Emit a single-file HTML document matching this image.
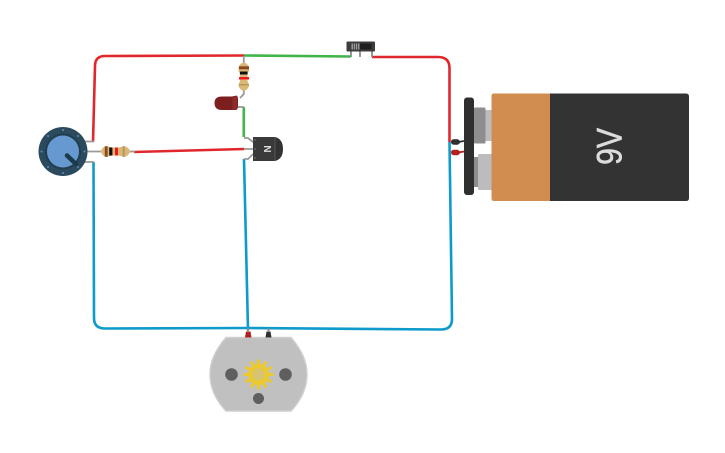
<!DOCTYPE html>
<html><head><meta charset="utf-8"><style>html,body{margin:0;padding:0;background:#fff;width:725px;height:453px;overflow:hidden}svg{display:block}</style></head><body>
<svg width="725" height="453" viewBox="0 0 725 453" xmlns="http://www.w3.org/2000/svg">
<!-- wires -->
<g fill="none" stroke-width="2.600" stroke-linejoin="round">
<path d="M93 142L95 66Q95 56 105 56L244 55.500" stroke="#e0272b"/>
<path d="M244 55.500L351 56.500" stroke="#3fb54a"/>
<path d="M372 57L438 57Q449.500 57 449.500 68L449.500 142" stroke="#e0272b"/>
<path d="M243.800 107L243.800 137" stroke="#3fb54a"/>
<path d="M134 152L244 149" stroke="#e0272b"/>
<path d="M93.500 162L94 318Q94 328.500 105 328.500L248 328L441 329.500Q452 329.500 452 319L449.500 142" stroke="#0e9bcb"/>
<path d="M244 159L248 330" stroke="#0e9bcb"/>
</g>
<!-- leads -->
<g stroke="#9a9a9a" stroke-width="1.800" fill="none">
<path d="M84 141.500H94M84 151.500H102M84 162H94"/>
<path d="M128 151.500H135"/>
<path d="M243.800 56V63M243.800 90L243.800 94L240 98"/>
<path d="M237 107H244"/>
<path d="M244 138H248L253 142M244 149H253M244 159L248 159L253 154"/>
<path d="M351 50V57M360 50V57M372 50V57" stroke="#8a8a8a"/>
</g>
<!-- potentiometer -->
<circle cx="63" cy="151.500" r="24.500" fill="#2b4a5e"/>
<circle cx="63" cy="151.500" r="17" fill="none" stroke="#1b3646" stroke-width="2" stroke-dasharray="1.200 .8"/>
<circle cx="63" cy="151.500" r="16" fill="#6699cf"/>
<g fill="#5b8fb8">
<circle cx="63" cy="130" r="1"/><circle cx="63" cy="173" r="1"/><circle cx="41.500" cy="151.500" r="1"/><circle cx="84.500" cy="151.500" r="1"/><circle cx="78" cy="136" r="1"/><circle cx="48" cy="136" r="1"/><circle cx="48" cy="167" r="1"/><circle cx="78" cy="167" r="1"/>
</g>
<path d="M67 155.500L76 164" stroke="#1d3a4c" stroke-width="4.500" stroke-linecap="round"/>
<!-- resistor 1 -->
<path d="M100.500 151.500Q103 146 107 146Q110 147.500 113 147.500H118Q120 147.500 124 146Q128 146.500 130.500 151.500Q128 156.500 124 157Q120 155.500 118 155.500H113Q110 155.500 107 157Q103 157 100.500 151.500Z" fill="#dcb878"/>
<rect x="104.800" y="146.300" width="2.800" height="10.500" fill="#8a4b1c"/>
<rect x="109.200" y="147.500" width="3.200" height="8" fill="#111"/>
<rect x="115" y="147.500" width="3" height="8" fill="#f01a1a"/>
<rect x="122.700" y="146.300" width="2" height="10.500" fill="#b39a5a"/>
<!-- resistor 2 -->
<path d="M243.800 62Q248.500 64 249 68V71Q247.500 73 247.500 77V81Q249 84 249 86Q247.500 90 243.800 91Q240 90 238.500 86Q238.500 84 240 81V77Q240 73 238.500 71V68Q239 64 243.800 62Z" fill="#dcb878"/>
<rect x="239" y="66.300" width="10" height="3" fill="#8a4b1c"/>
<rect x="240" y="71.500" width="7.500" height="3" fill="#111"/>
<rect x="239" y="77" width="10" height="2.500" fill="#f01a1a"/>
<rect x="239" y="84" width="10" height="1.500" fill="#b39a5a"/>
<!-- LED -->
<path d="M222 96.500H233L236.500 95.500Q238 96 238 100V106Q238 110 235 110H222Q214.500 110 214.500 103Q214.500 96.500 222 96.500Z" fill="#7e1f1f"/>
<rect x="232.500" y="96" width="4.500" height="14" fill="#8d2a2a" rx="1"/>
<!-- transistor -->
<path d="M253 137H275Q283 139 283 149Q283 159 275 161H253Z" fill="#333"/>
<rect x="253" y="137" width="22" height="24" fill="#3a3a3a"/>
<rect x="274.500" y="137" width="1" height="24" fill="#555"/>
<g fill="#555"><rect x="254" y="139" width="2" height="2"/><rect x="254" y="148" width="2" height="2"/><rect x="254" y="157" width="2" height="2"/></g>
<text x="266.500" y="149" font-family="Liberation Sans,sans-serif" font-size="10" font-weight="bold" fill="#ddd" text-anchor="middle" dominant-baseline="middle" transform="rotate(90 266.500 149)">N</text>
<!-- switch -->
<rect x="346.500" y="41.500" width="28.500" height="10" fill="#3d3d3d" rx="1"/>
<rect x="351.500" y="43.500" width="20" height="6" fill="#1f1f1f"/>
<rect x="351.500" y="43.500" width="8" height="6" fill="#999"/>
<g stroke="#333" stroke-width=".7"><path d="M353.500 43.500v6M355.500 43.500v6M357.500 43.500v6"/></g>
<!-- battery -->
<rect x="464" y="97.500" width="10" height="97.500" rx="3" fill="#2f2f2f"/>
<rect x="474" y="107.500" width="11.500" height="36" fill="#8e8e8e" rx="1"/>
<rect x="485.500" y="110" width="6" height="31" fill="#bcbcbc"/>
<rect x="474" y="157" width="4" height="30" fill="#8e8e8e"/>
<rect x="478" y="154" width="14" height="36" fill="#bcbcbc" rx="1"/>
<path d="M494 93.500H550V201H494Q491.500 201 491.500 198.500V96Q491.500 93.500 494 93.500Z" fill="#d18c50"/>
<path d="M550 93.500H686Q689 93.500 689 96.500V198Q689 201 686 201H550Z" fill="#333"/>
<text transform="translate(621.500 146.500) rotate(-90) scale(.86 1)" font-family="Liberation Sans,sans-serif" font-size="35" fill="#dcdcdc" stroke="#dcdcdc" stroke-width=".6" text-anchor="middle">9V</text>
<!-- battery terminals -->
<path d="M458 142L464 141" stroke="#2f2f2f" stroke-width="1.800"/>
<path d="M451 142Q451 139.300 454 139.300H458L461 142L458 144.700H454Q451 144.700 451 142Z" fill="#2f2f2f"/>
<path d="M458 152.500L464 151.500" stroke="#b52020" stroke-width="1.800"/>
<path d="M451 152.500Q451 149.800 454 149.800H458L461 152.500L458 155.200H454Q451 155.200 451 152.500Z" fill="#b52020"/>
<!-- motor -->
<path d="M226 337.500H291Q307 356 307 374Q307 394 291 411H226Q210 394 210 374Q210 356 226 337.500Z" fill="#c0c0c0" stroke="#cfcfcf" stroke-width="1.400"/>
<path d="M248 328V331" stroke="#8a8a8a" stroke-width="2"/>
<path d="M268.500 328V331" stroke="#8a8a8a" stroke-width="2"/>
<path d="M246 331.500H250.500L251.500 337.500H245Z" fill="#b02020"/>
<path d="M266.500 331.500H270.500L271.500 337.500H265.500Z" fill="#2f2f2f"/>
<circle cx="231.500" cy="374.500" r="6.300" fill="#5f5f5f"/>
<circle cx="285.500" cy="374.500" r="6.300" fill="#5f5f5f"/>
<circle cx="258.500" cy="398.500" r="5.500" fill="#5f5f5f"/>
<circle cx="258.500" cy="374.500" r="10.500" fill="#ecc92f"/>
<g stroke="#ecc92f" stroke-width="3">
<path d="M258.500 359.500V389.500M243.500 374.500H273.500M251 361.500L266 387.500M266 361.500L251 387.500M245.500 367L271.500 382M271.500 367L245.500 382"/>
</g>
<circle cx="258.500" cy="374.500" r="6.200" fill="#d8c470"/>
</svg>
</body></html>
